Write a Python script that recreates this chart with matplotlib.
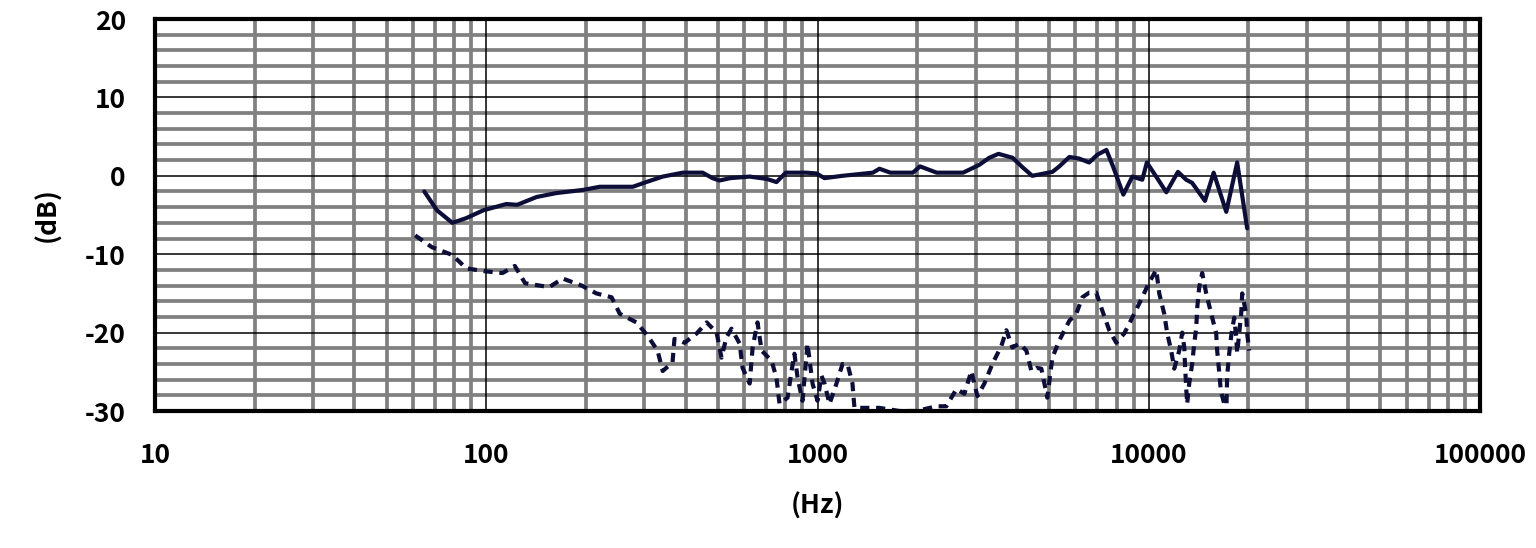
import numpy as np
import matplotlib
matplotlib.use("Agg")
import matplotlib.pyplot as plt
from matplotlib.ticker import FixedLocator, MultipleLocator, NullFormatter

plt.rcParams['font.family'] = ['Noto Sans CJK JP', 'DejaVu Sans']
plt.rcParams['font.weight'] = 'bold'
plt.rcParams['axes.labelweight'] = 'bold'
plt.rcParams['axes.unicode_minus'] = False

# ----------------- DATA -----------------

# solid response (Hz, dB)
resp_freq = [65, 71, 79, 87, 98, 115, 124, 142, 163, 196, 220, 277, 304, 341, 392, 450,
             482, 506, 545, 624, 703, 752, 802, 925, 993, 1050, 1190, 1470, 1538, 1660,
             1940, 2040, 2290, 2750, 3080, 3300, 3520, 3880, 4180, 4450, 5120, 5370,
             5760, 6160, 6610, 7000, 7450, 7800, 8380, 8920, 9560, 9870, 10530, 11300,
             12250, 12970, 13520, 14780, 15700, 17140, 18490, 19820]
resp_db = [-2.0, -4.4, -6.0, -5.4, -4.4, -3.6, -3.7, -2.7, -2.2, -1.8, -1.4, -1.4, -0.8,
           -0.1, 0.4, 0.4, -0.3, -0.6, -0.3, -0.1, -0.4, -0.8, 0.4, 0.4, 0.3, -0.3, 0.0,
           0.4, 0.9, 0.4, 0.4, 1.2, 0.4, 0.4, 1.4, 2.3, 2.8, 2.3, 1.0, 0.0, 0.5, 1.2,
           2.4, 2.2, 1.7, 2.7, 3.3, 1.2, -2.4, -0.1, -0.5, 1.7, -0.1, -2.1, 0.5, -0.5,
           -0.9, -3.2, 0.4, -4.6, 1.7, -6.7]

# dashed response (Hz, dB), ten points per row
dist_freq = [61, 68.5, 79, 87, 100, 112, 122, 131, 155, 170,
             194, 215, 239, 253, 284, 307, 329, 341, 365, 370,
             397, 432, 463, 496, 513, 531, 550, 582, 594, 624,
             637, 659, 678, 727, 752, 768, 812, 835, 852, 871,
             901, 933, 966, 1000, 1028, 1050, 1087, 1141, 1190, 1232,
             1275, 1293, 1405, 1538, 1768, 1989, 2286, 2449, 2626, 2776,
             2914, 3038, 3190, 3372, 3590, 3717, 3875, 4069, 4272, 4423,
             4578, 4740, 4941, 5116, 5370, 5757, 6043, 6302, 6613, 6943,
             7240, 7600, 7980, 8436, 8917, 9559, 10000, 10535, 10756, 11137,
             11370, 11690, 11940, 12360, 12620, 12800, 12880, 12970, 13060, 13250,
             13520, 13720, 13910, 14010, 14200, 14500, 14910, 15440, 15980, 16090,
             16310, 16500, 16900, 17140, 17250, 17490, 17740, 18110, 18370, 18490,
             18750, 19010, 19150, 19680, 19820, 20100]
dist_db = [-7.6, -9.1, -10.1, -11.8, -12.2, -12.4, -11.5, -13.7, -14.2, -13.1,
           -14.0, -15.0, -15.5, -17.6, -18.7, -20.4, -22.3, -24.9, -23.8, -20.8,
           -21.3, -20.1, -18.7, -20.0, -23.2, -20.6, -19.5, -21.4, -24.5, -26.5,
           -21.9, -18.7, -22.3, -23.6, -25.8, -29.1, -28.3, -24.9, -22.7, -25.8,
           -28.7, -21.4, -26.5, -28.7, -25.5, -26.5, -29.1, -26.5, -24.0, -24.0,
           -26.5, -29.6, -29.6, -29.6, -30.0, -30.0, -29.4, -29.4, -27.2, -27.8,
           -24.9, -28.1, -26.5, -24.0, -21.7, -19.7, -21.9, -21.4, -22.3, -24.9,
           -24.5, -24.6, -28.3, -23.2, -21.0, -18.5, -17.6, -15.5, -14.9, -14.9,
           -17.2, -19.7, -21.3, -20.1, -18.1, -15.5, -13.7, -12.0, -15.0, -17.6,
           -20.1, -22.3, -24.6, -22.3, -20.0, -21.9, -24.5, -27.0, -29.1, -26.5,
           -24.0, -21.4, -19.4, -16.8, -14.2, -12.4, -15.0, -17.6, -20.1, -22.3,
           -24.9, -27.4, -29.1, -30.4, -25.5, -22.7, -20.4, -18.1, -20.6, -22.6,
           -20.1, -17.6, -15.0, -17.6, -20.1, -22.3]

x_ticks = [10, 100, 1000, 10000, 100000]
y_ticks = [-30, -20, -10, 0, 10, 20]

# ----------------- PLOT -----------------

line_color = "#0c0e38"

fig = plt.figure(figsize=(15.36, 5.48), dpi=100)
ax = fig.add_axes([155 / 1536, 1 - 411 / 548, (1480 - 155) / 1536, (411 - 19) / 548])

ax.set_xscale("log")
ax.set_xlim(10, 100000)
ax.set_ylim(-30, 20)

ax.xaxis.set_major_locator(FixedLocator(x_ticks))
ax.xaxis.set_minor_locator(FixedLocator([m * 10 ** d for d in range(1, 5) for m in range(2, 10)]))
ax.xaxis.set_major_formatter(plt.FuncFormatter(lambda v, p: f"{int(v)}"))
ax.xaxis.set_minor_formatter(NullFormatter())
ax.yaxis.set_major_locator(FixedLocator(y_ticks))
ax.yaxis.set_minor_locator(MultipleLocator(2))

# gray minor grid underneath, thin black decade / 10 dB lines on top of it
ax.grid(which="minor", color="#808080", linewidth=2.7)
ax.set_axisbelow(True)
for xv in x_ticks[1:-1]:
    ax.axvline(xv, color="black", linewidth=1.1, zorder=1.5)
for yv in y_ticks[1:-1]:
    ax.axhline(yv, color="black", linewidth=1.1, zorder=1.5)

ax.plot(resp_freq, resp_db, color=line_color, linewidth=3.0, zorder=4,
        solid_joinstyle="round", solid_capstyle="round")
ax.plot(dist_freq, dist_db, color=line_color, linewidth=3.0, dashes=(2.2, 1.6), zorder=3)

ax.tick_params(which="both", length=0)
ax.tick_params(axis="x", pad=22, labelsize=19)
ax.tick_params(axis="y", pad=21, labelsize=19)

for sp in ax.spines.values():
    sp.set_linewidth(3)
    sp.set_zorder(5)

ax.set_xlabel("(Hz)", fontsize=19, labelpad=17)
ax.set_ylabel("(dB)", fontsize=19, labelpad=17)

fig.savefig("out.png", dpi=100)
